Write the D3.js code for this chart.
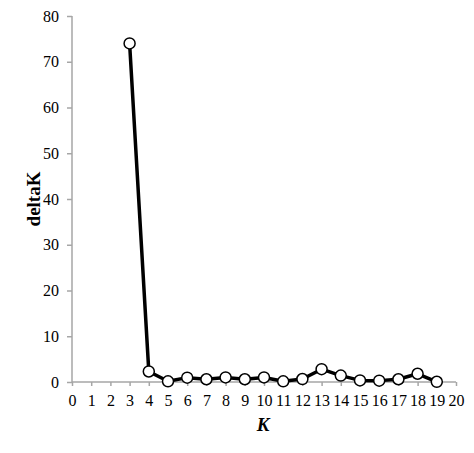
<!DOCTYPE html>
<html><head><meta charset="utf-8">
<script src="https://cdn.jsdelivr.net/npm/d3@7"></script>
<style>body{margin:0;background:#fff;} svg{display:block;}</style>
</head><body>
<script>
const kValues = [3,4,5,6,7,8,9,10,11,12,13,14,15,16,17,18,19];
const deltaK = [74.0,2.3,0.15,0.95,0.6,1.0,0.6,1.0,0.15,0.65,2.8,1.4,0.35,0.3,0.6,1.8,0.05];
const xTicks = d3.range(0,21);
const yTicks = [0,10,20,30,40,50,60,70,80];

const W=474,H=453;
const svg=d3.select("body").append("svg").attr("width",W).attr("height",H);
const x=d3.scaleLinear().domain([0,20]).range([72,456]);
const y=d3.scaleLinear().domain([0,80]).range([382,16]);
const font="'Liberation Serif','Times New Roman',serif";
const axisCol="#a6a6a6";

const yAxis=svg.append("g").attr("transform","translate(72,0)")
  .call(d3.axisLeft(y).tickValues(yTicks).tickSize(5).tickPadding(8).tickFormat(d3.format("d")));
const xAxis=svg.append("g").attr("transform","translate(0,382)")
  .call(d3.axisBottom(x).tickValues(xTicks).tickSize(4).tickPadding(9).tickFormat(d3.format("d")));
[yAxis,xAxis].forEach(g=>{
  g.selectAll("path,line").attr("stroke",axisCol).attr("stroke-width",1.5);
  g.selectAll("text").attr("font-family",font).attr("font-size",16).attr("fill","#000");
});
xAxis.select(".domain").attr("d","M72,0H456");
yAxis.select(".domain").attr("d","M0,16V382");

const line=d3.line().x((d,i)=>x(kValues[i])).y(d=>y(d)).curve(d3.curveLinear);
svg.append("path").datum(deltaK).attr("d",line).attr("fill","none")
  .attr("stroke","#000").attr("stroke-width",3.5).attr("stroke-linejoin","round");
svg.selectAll("circle.pt").data(deltaK).enter().append("circle").attr("class","pt")
  .attr("cx",(d,i)=>x(kValues[i])).attr("cy",d=>y(d)).attr("r",5.5)
  .attr("fill","#fff").attr("stroke","#000").attr("stroke-width",1.5);

svg.append("text").attr("transform","translate(40,199) rotate(-90)").attr("text-anchor","middle")
  .attr("font-family",font).attr("font-size",19).attr("font-weight","bold").text("deltaK");
svg.append("text").attr("x",263).attr("y",431).attr("text-anchor","middle")
  .attr("font-family",font).attr("font-size",19).attr("font-weight","bold").attr("font-style","italic").text("K");
</script>
</body></html>
